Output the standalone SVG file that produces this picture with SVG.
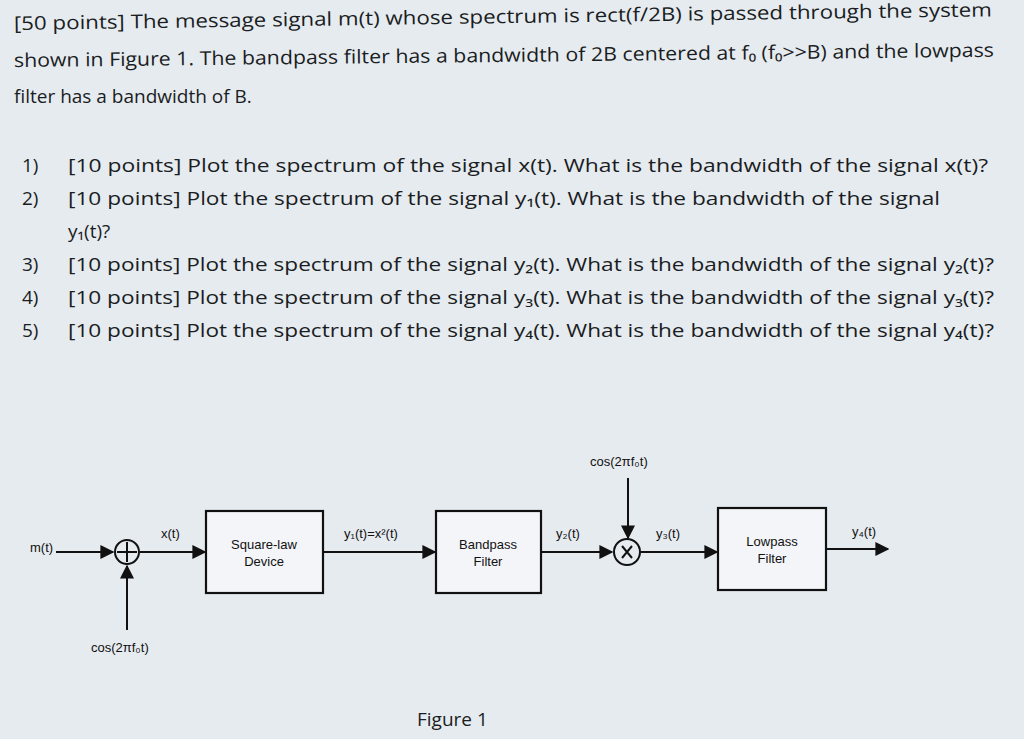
<svg xmlns="http://www.w3.org/2000/svg" width="1024" height="739" viewBox="0 0 1024 739">
<defs>
<style>
.t{font-family:"Open Sans","Liberation Sans",sans-serif;font-size:19px;fill:#1a1d22}
.d{font-family:"Liberation Sans",Arial,sans-serif;font-size:13px;fill:#111}
.ln{stroke:#111;stroke-width:2;fill:none}
.bx{stroke:#111;stroke-width:2.2;fill:#f3f5f8}
</style>
<marker id="ah" viewBox="0 0 10 10" refX="9" refY="5" markerWidth="7" markerHeight="7" orient="auto"><path d="M0,0 L10,5 L0,10 z" fill="#111"/></marker>
</defs>
<rect width="1024" height="739" fill="#e6ebf0"/>
<text class="t" x="14" y="30" textLength="978" lengthAdjust="spacingAndGlyphs" transform="rotate(-0.8 14 30)">[50 points] The message signal m(t) whose spectrum is rect(f/2B) is passed through the system</text>
<text class="t" x="14" y="67" textLength="980" lengthAdjust="spacingAndGlyphs" transform="rotate(-0.6 14 67)">shown in Figure 1. The bandpass filter has a bandwidth of 2B centered at f₀ (f₀&gt;&gt;B) and the lowpass</text>
<text class="t" x="14" y="103">filter has a bandwidth of B.</text>
<g class="t">
<text x="22" y="172">1)</text><text x="68" y="172" textLength="920" lengthAdjust="spacingAndGlyphs">[10 points] Plot the spectrum of the signal x(t). What is the bandwidth of the signal x(t)?</text>
<text x="22" y="205">2)</text><text x="68" y="205" textLength="872" lengthAdjust="spacingAndGlyphs">[10 points] Plot the spectrum of the signal y₁(t). What is the bandwidth of the signal</text>
<text x="68" y="238">y₁(t)?</text>
<text x="22" y="271">3)</text><text x="68" y="271" textLength="926" lengthAdjust="spacingAndGlyphs">[10 points] Plot the spectrum of the signal y₂(t). What is the bandwidth of the signal y₂(t)?</text>
<text x="22" y="304">4)</text><text x="68" y="304" textLength="926" lengthAdjust="spacingAndGlyphs">[10 points] Plot the spectrum of the signal y₃(t). What is the bandwidth of the signal y₃(t)?</text>
<text x="22" y="337">5)</text><text x="68" y="337" textLength="926" lengthAdjust="spacingAndGlyphs">[10 points] Plot the spectrum of the signal y₄(t). What is the bandwidth of the signal y₄(t)?</text>
</g>
<g id="connectors">
<line class="ln" x1="56" y1="552" x2="113" y2="552" marker-end="url(#ah)"/>
<line class="ln" x1="127" y1="630" x2="127" y2="566" marker-end="url(#ah)"/>
<line class="ln" x1="140" y1="552" x2="205" y2="552" marker-end="url(#ah)"/>
<line class="ln" x1="323" y1="552" x2="435" y2="552" marker-end="url(#ah)"/>
<line class="ln" x1="541" y1="552" x2="612" y2="552" marker-end="url(#ah)"/>
<line class="ln" x1="628" y1="478" x2="628" y2="538" marker-end="url(#ah)"/>
<line class="ln" x1="641" y1="552" x2="717" y2="552" marker-end="url(#ah)"/>
<line class="ln" x1="826" y1="549" x2="888" y2="549" marker-end="url(#ah)"/>
</g>
<g id="sum"><circle class="ln" cx="127" cy="552" r="12" fill="#f3f5f8"/><path class="ln" d="M127,542 V562 M117,552 H137"/></g>
<g id="square"><rect class="bx" x="206" y="511" width="117" height="82"/><text class="d" x="264" y="549" text-anchor="middle">Square-law</text><text class="d" x="264" y="566" text-anchor="middle">Device</text></g>
<g id="bandpass"><rect class="bx" x="436" y="511" width="105" height="82"/><text class="d" x="488" y="549" text-anchor="middle">Bandpass</text><text class="d" x="488" y="566" text-anchor="middle">Filter</text></g>
<g id="mult"><circle class="ln" cx="627" cy="552" r="13" fill="#f3f5f8"/><path class="ln" stroke-width="2.4" d="M622,546 L632,558 M632,546 L622,558"/></g>
<g id="lowpass"><rect class="bx" x="718" y="508" width="108" height="82"/><text class="d" x="772" y="546" text-anchor="middle">Lowpass</text><text class="d" x="772" y="563" text-anchor="middle">Filter</text></g>
<g class="d">
<text x="30" y="552">m(t)</text>
<text x="161" y="538">x(t)</text>
<text x="344" y="538">y₁(t)=x²(t)</text>
<text x="556" y="538">y₂(t)</text>
<text x="656" y="538">y₃(t)</text>
<text x="852" y="536">y₄(t)</text>
<text x="590" y="466">cos(2πf₀t)</text>
<text x="91" y="652">cos(2πf₀t)</text>
</g>
<text x="417" y="726" font-family="Open Sans,Liberation Sans,sans-serif" font-size="19" fill="#1a1d22">Figure 1</text>
</svg>
